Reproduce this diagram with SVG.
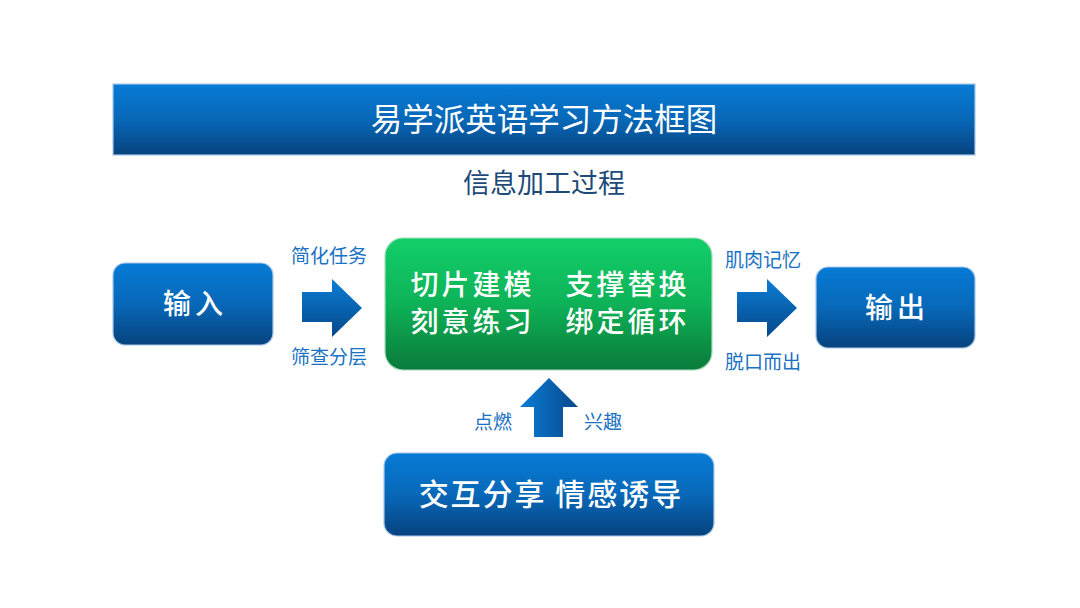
<svg xmlns="http://www.w3.org/2000/svg" width="1080" height="608" viewBox="0 0 1080 608">
<defs>
<linearGradient id="gBlue" x1="0" y1="0" x2="0" y2="1">
<stop offset="0" stop-color="#067bd6"/>
<stop offset="0.5" stop-color="#0868b8"/>
<stop offset="1" stop-color="#06427e"/>
</linearGradient>
<linearGradient id="gGreen" x1="0" y1="0" x2="0" y2="1">
<stop offset="0" stop-color="#12cf6a"/>
<stop offset="0.5" stop-color="#0eb257"/>
<stop offset="1" stop-color="#0a7a3a"/>
</linearGradient>
<linearGradient id="gArrowV" x1="0" y1="0" x2="0" y2="1">
<stop offset="0" stop-color="#0a7dd6"/>
<stop offset="1" stop-color="#07488a"/>
</linearGradient>
<linearGradient id="gArrowH" x1="0" y1="0" x2="1" y2="0">
<stop offset="0" stop-color="#0a7dd6"/>
<stop offset="1" stop-color="#07488a"/>
</linearGradient>
</defs>
<style>
.box{stroke:#a9c8e8;stroke-width:1.2}
.gbox{stroke:#a8dcbc;stroke-width:1.2}
.bt{font-family:"Noto Sans CJK SC","Noto Sans CJK JP",sans-serif;font-weight:500;fill:#ffffff;text-anchor:middle}
.lbl{font-family:"Noto Sans CJK SC","Noto Sans CJK JP",sans-serif;font-size:19px;fill:#1a72c4;text-anchor:middle}
</style>
<rect width="1080" height="608" fill="#ffffff"/>
<g id="title">
<rect x="113" y="84" width="862" height="71" fill="url(#gBlue)" class="box"/>
<text x="544" y="131" font-family="Noto Sans CJK SC, sans-serif" font-size="31.5" fill="#ffffff" text-anchor="middle">易学派英语学习方法框图</text>
</g>
<g id="subtitle">
<text x="544" y="193" font-family="Noto Sans CJK SC, sans-serif" font-size="27" fill="#1d4a78" text-anchor="middle">信息加工过程</text>
</g>
<g id="input">
<rect x="113" y="263" width="160" height="82" rx="12" fill="url(#gBlue)" class="box"/>
<text x="195" y="314" class="bt" font-size="28" letter-spacing="4">输入</text>
</g>
<g id="core">
<rect x="385" y="238" width="327" height="132" rx="18" fill="url(#gGreen)" class="gbox"/>
<text x="550" y="295" class="bt" font-size="28" letter-spacing="3">切片建模　支撑替换</text>
<text x="550" y="332" class="bt" font-size="28" letter-spacing="3">刻意练习　绑定循环</text>
</g>
<g id="output">
<rect x="816" y="267" width="159" height="81" rx="12" fill="url(#gBlue)" class="box"/>
<text x="897" y="318" class="bt" font-size="28" letter-spacing="4">输出</text>
</g>
<g id="bottom">
<rect x="384" y="453" width="330" height="83" rx="13" fill="url(#gBlue)" class="box"/>
<text x="551" y="505" class="bt" font-size="30" letter-spacing="2">交互分享 情感诱导</text>
</g>
<g id="connectors">
<polygon points="302,292 332,292 332,279 362,308 332,337 332,322 302,322" fill="url(#gArrowV)"/>
<polygon points="737,292 767,292 767,279 797,308 767,337 767,322 737,322" fill="url(#gArrowV)"/>
<polygon points="549,378 578,407 563,407 563,437 534,437 534,407 520,407" fill="url(#gArrowH)"/>
<text x="329" y="263" class="lbl">简化任务</text>
<text x="329" y="364" class="lbl">筛查分层</text>
<text x="763" y="267" class="lbl">肌肉记忆</text>
<text x="763" y="369" class="lbl">脱口而出</text>
<text x="493" y="429" class="lbl">点燃</text>
<text x="603" y="429" class="lbl">兴趣</text>
</g>
</svg>
